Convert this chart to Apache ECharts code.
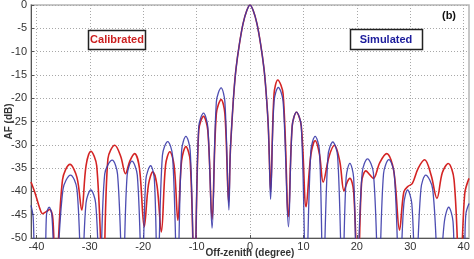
<!DOCTYPE html>
<html><head><meta charset="utf-8">
<script src="https://cdn.jsdelivr.net/npm/echarts@6/dist/echarts.min.js"></script>
<style>html,body{margin:0;padding:0;background:#fff}#c{width:474px;height:259px}</style>
</head><body><div id="c"></div>
<script>
// x tick labels (degree) and y range
const xTicks = [-40, -30, -20, -10, 0, 10, 20, 30, 40];
const yTicks = [0, -5, -10, -15, -20, -25, -30, -35, -40, -45, -50];

// Calibrated (red): angle (deg), AF (dB)
const calX = [-41,-40.2,-39.4,-38.8,-38.1,-37.5,-36.9,-36.4,-35.1,-33.7,-32.4,-31.5,-30.7,-29.8,-28.7,-27.5,-26.6,-25.3,-24.2,-23.3,-22.5,-21.6,-20.7,-19.8,-19.0,-18.2,-17.4,-16.6,-15.8,-15.0,-14.2,-13.5,-12.8,-12.0,-11.2,-10.4,-9.6,-8.7,-7.9,-7.1,-6.3,-5.4,-4.7,-4.0,
  -3.7,-3.4,-3.0,-2.6,-2.0,-1.3,-0.6,0,0.6,1.3,2.0,2.6,3.0,3.4,3.6,
  3.85,4.5,5.2,6.2,7.2,7.9,8.7,9.6,10.5,11.4,12.2,13.0,13.7,14.8,15.8,16.8,17.6,18.2,18.7,19.4,20.2,20.9,21.7,22.4,23.1,24.3,25.6,26.9,28.0,28.8,29.6,30.4,31.5,32.7,33.9,35.0,36.0,37.1,38.2,39.3,40.2,41];
const calY = [-38.0,-40.5,-43.5,-44.8,-44.3,-43.9,-46,-60,-37.5,-34.2,-37.0,-44.0,-34.5,-31.4,-34.5,-60,-33.0,-30.1,-32.5,-36.2,-33.5,-31.9,-35,-47.6,-38.5,-35.8,-38.8,-48.7,-34.3,-31.5,-34.5,-46.2,-33.4,-30.4,-33.4,-60,-26.9,-23.9,-26.9,-46,-23.3,-20.3,-23.3,-42.3,
  -32,-25.5,-18.5,-13.5,-8.5,-4,-1.2,0,-1.2,-4,-8.5,-13.5,-18.5,-25.5,-32,
  -40,-19.1,-16.1,-19.1,-45.4,-26.0,-23.0,-26.0,-43.3,-32.1,-29.1,-32,-38.0,-32.5,-30.1,-33.5,-39.9,-38.0,-37.2,-40,-60,-38,-35.6,-36.4,-37.2,-33.8,-31.9,-35.5,-48.3,-40.1,-38.9,-38.3,-35.0,-33.2,-36.5,-41.5,-36.0,-34.0,-37.5,-60,-40.5,-37.2];

// Simulated (blue): angle (deg), AF (dB)
const simX = [-41,-40.6,-40.0,-38.5,-38.1,-37.6,-37.1,-36.4,-35.0,-33.6,-32.4,-31.5,-30.7,-29.8,-28.9,-28.1,-27.2,-25.8,-24.8,-23.8,-23.0,-22.1,-21.1,-20.2,-19.5,-18.6,-17.9,-17.3,-16.4,-15.4,-14.5,-13.6,-12.8,-12.0,-11.2,-10.4,-9.6,-8.7,-7.9,-7.1,-6.3,-5.4,-4.7,-3.95,
  -3.7,-3.4,-3.0,-2.6,-2.0,-1.3,-0.6,0,0.6,1.3,2.0,2.6,3.0,3.4,3.6,
  3.85,4.5,5.3,6.2,7.2,7.9,8.7,9.6,10.5,11.4,12.2,13.0,13.7,14.6,15.5,16.4,17.3,18.0,18.7,19.4,20.0,21.0,22.0,23.1,24.1,25.0,26.0,27.0,28.0,28.8,29.5,30.3,31.0,32.0,32.9,34.2,35.4,36.4,37.2,38.0,38.5,39.8,40.4,41];
const simY = [-43.0,-45.5,-60,-60,-45.0,-43.4,-45.0,-60,-39.5,-36.5,-39.5,-60,-42.5,-39.7,-42.5,-60,-36.3,-33.3,-36.3,-60,-36.5,-33.5,-36.5,-60,-37.5,-34.5,-37.5,-60,-32.3,-29.3,-32.3,-60,-31.2,-28.2,-31.2,-60,-26.2,-23.2,-26.2,-47.9,-20.8,-17.8,-20.8,-44,
  -32,-25.5,-18.5,-13.5,-8.5,-4,-1.2,0,-1.2,-4,-8.5,-13.5,-18.5,-25.5,-32,
  -41.7,-20.7,-17.7,-20.7,-47.6,-26.0,-23.0,-26.0,-60,-31.2,-28.2,-31.2,-60,-32.4,-29.4,-32.4,-60,-37.0,-34.0,-37.0,-60,-36.0,-33.0,-36.0,-60,-36.2,-33.2,-36.2,-60,-42.7,-39.7,-42.7,-60,-39.5,-36.5,-39.5,-60,-46.4,-43.4,-46.4,-60,-60,-45,-42.6];

const seriesNames = ['Calibrated', 'Simulated'];

const zip = (xs, ys) => xs.map((x, i) => [x, ys[i]]);

const chart = echarts.init(document.getElementById('c'), null, {renderer: 'canvas'});
const font = 'Arial, "Liberation Sans", sans-serif';
chart.setOption({
  animation: false,
  backgroundColor: '#fff',
  grid: {left: 31, right: 5, top: 5, bottom: 21, containLabel: false, outerBoundsMode: 'none',
         show: true, borderColor: '#b5b5b5', borderWidth: 1.5},
  xAxis: {
    type: 'value', min: -41, max: 41,
    name: 'Off-zenith (degree)', nameLocation: 'middle', nameGap: 10, nameMoveOverlap: false,
    nameTextStyle: {fontFamily: font, fontWeight: 'bold', fontSize: 10, color: '#333'},
    axisLine: {show: true, onZero: false, lineStyle: {color: '#555', width: 1}},
    axisTick: {show: true, inside: true, length: 3, customValues: xTicks, lineStyle: {color: '#555'}},
    axisLabel: {customValues: xTicks, fontFamily: font, fontSize: 11, color: '#333', margin: 3},
    splitLine: {show: true, lineStyle: {color: '#a8a8a8', type: [1, 2], width: 1}}
  },
  yAxis: {
    type: 'value', min: -50, max: 0, interval: 5,
    name: 'AF (dB)', nameLocation: 'middle', nameGap: 17, nameRotate: 90, nameMoveOverlap: false,
    nameTextStyle: {fontFamily: font, fontWeight: 'bold', fontSize: 10, color: '#333'},
    axisLine: {show: true, onZero: false, lineStyle: {color: '#555', width: 1}},
    axisTick: {show: true, inside: true, length: 3, lineStyle: {color: '#555'}},
    axisLabel: {fontFamily: font, fontSize: 11, color: '#333', margin: 4},
    splitLine: {show: true, lineStyle: {color: '#a8a8a8', type: [1, 2], width: 1}}
  },
  series: [
    {name: seriesNames[0], type: 'line', data: zip(calX, calY), showSymbol: false, smooth: 0.35,
     lineStyle: {color: '#d42424', width: 1.6}, clip: true, z: 2},
    {name: seriesNames[1], type: 'line', data: zip(simX, simY), showSymbol: false, smooth: 0.35,
     lineStyle: {color: '#3a3aaa', width: 1.3, opacity: 0.9}, clip: true, z: 3}
  ],
  graphic: [
    {type: 'rect', shape: {x: 88.5, y: 30.5, width: 57, height: 19}, style: {fill: '#fff', stroke: '#222', lineWidth: 1.5}, z: 10},
    {type: 'text', x: 117, y: 40, style: {text: seriesNames[0], fill: '#cc1f1f', font: 'bold 11px ' + font, align: 'center', verticalAlign: 'middle'}, z: 11},
    {type: 'rect', shape: {x: 350.5, y: 29.5, width: 72, height: 20}, style: {fill: '#fff', stroke: '#222', lineWidth: 1.5}, z: 10},
    {type: 'text', x: 386, y: 40, style: {text: seriesNames[1], fill: '#1c1c9c', font: 'bold 11px ' + font, align: 'center', verticalAlign: 'middle'}, z: 11},
    {type: 'text', x: 449, y: 16, style: {text: '(b)', fill: '#111', font: 'bold 11px ' + font, align: 'center', verticalAlign: 'middle'}, z: 11}
  ]
});
</script></body></html>
